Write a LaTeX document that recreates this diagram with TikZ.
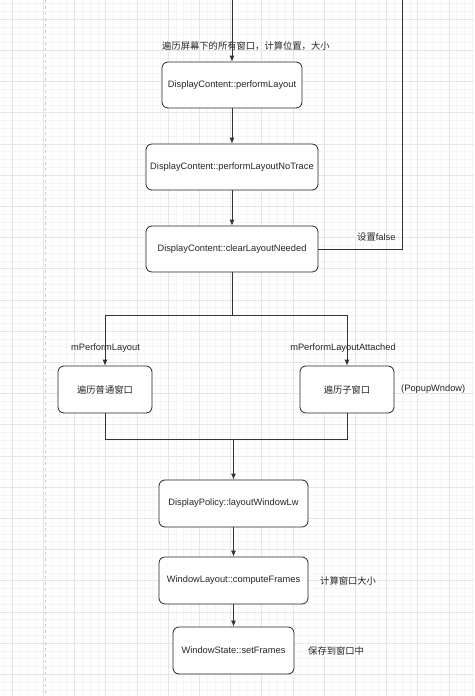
\documentclass[tikz,border=0pt]{standalone}
\usepackage{fontspec}
\usetikzlibrary{arrows.meta}
\setmainfont{Liberation Sans}
\newfontfamily\cjk{Noto Sans CJK SC}
\begin{document}
\begin{tikzpicture}[>={Latex[length=6pt,width=5pt]}, x=1pt, y=-1pt,
  box/.style={draw=black!85, line width=0.8pt, rounded corners=6pt, fill=white,
    minimum height=46pt, inner sep=0pt, font=\fontsize{9.3}{11}\selectfont, text=black!85},
  lbl/.style={inner sep=0pt, font=\fontsize{9.3}{11}\selectfont, text=black!85},
  flow/.style={line width=0.8pt, draw=black!80}]
\useasboundingbox (0,0) rectangle (474,696);
% canvas grid
\fill[white] (0,0) rectangle (474,696);
\foreach \i in {0,...,61} \draw[black!4, line width=0.4pt] ({12+7.8*(\i-1)},0) -- ++(0,696);
\foreach \i in {0,...,90} \draw[black!4, line width=0.4pt] (0,{19+7.8*(\i-2)}) -- ++(474,0);
\foreach \i in {0,...,15} \draw[black!10, line width=0.5pt] ({12+31.2*\i},0) -- ++(0,696);
\foreach \i in {0,...,22} \draw[black!10, line width=0.5pt] (0,{19+31.2*(\i-1)}) -- ++(474,0);
\draw[black!20, dashed, line width=0.4pt] (45,0) -- (45,696);
% steps
\node[box, minimum width=140pt] (perf) at (232,85) {DisplayContent::performLayout};
\node[box, minimum width=172pt] (notrace) at (232,167) {DisplayContent::performLayoutNoTrace};
\node[box, minimum width=172pt] (clear) at (232,249) {DisplayContent::clearLayoutNeeded};
\node[box, minimum width=94pt, minimum height=47pt] (normal) at (105,389.5) {\cjk 遍历普通窗口};
\node[box, minimum width=94pt, minimum height=47pt] (child) at (347,389.5) {\cjk 遍历子窗口};
\node[box, minimum width=149pt, minimum height=47pt] (policy) at (233.5,503.5) {DisplayPolicy::layoutWindowLw};
\node[box, minimum width=149pt, minimum height=47pt] (frames) at (233.5,580.5) {WindowLayout::computeFrames};
\node[box, minimum width=121pt, minimum height=47pt] (state) at (233.5,650.5) {WindowState::setFrames};
% free ends
\coordinate (in) at (232,0);
\coordinate (back) at (402,0);
\coordinate (split) at (232,315);
\coordinate (join) at (233.5,439);
% connectors
\draw[flow, ->] (in) -- (perf);
\draw[flow, ->] (perf) -- (notrace);
\draw[flow, ->] (notrace) -- (clear);
\draw[flow] (clear.east) -| (back);
\draw[flow] (clear) -- (split);
\draw[flow, ->] (split) -| (normal);
\draw[flow, ->] (split) -| (child);
\draw[flow] (normal) |- (join);
\draw[flow] (child) |- (join);
\draw[flow, ->] (join) -- (policy);
\draw[flow, ->] (policy) -- (frames);
\draw[flow, ->] (frames) -- (state);
% labels
\node[lbl, anchor=west] (tIn) at (162,46) {\cjk 遍历屏幕下的所有窗口，计算位置，大小};
\node[lbl, anchor=west] (tBack) at (357,237) {{\cjk 设置}false};
\node[lbl] (tNormal) at (105.5,348) {mPerformLayout};
\node[lbl] (tChild) at (343,348) {mPerformLayoutAttached};
\node[lbl, anchor=west] (tPopup) at (401,389.5) {(PopupWndow)};
\node[lbl, anchor=west] (tSize) at (320,580.5) {\cjk 计算窗口大小};
\node[lbl, anchor=west] (tSave) at (308,650.5) {\cjk 保存到窗口中};
\end{tikzpicture}
\end{document}
